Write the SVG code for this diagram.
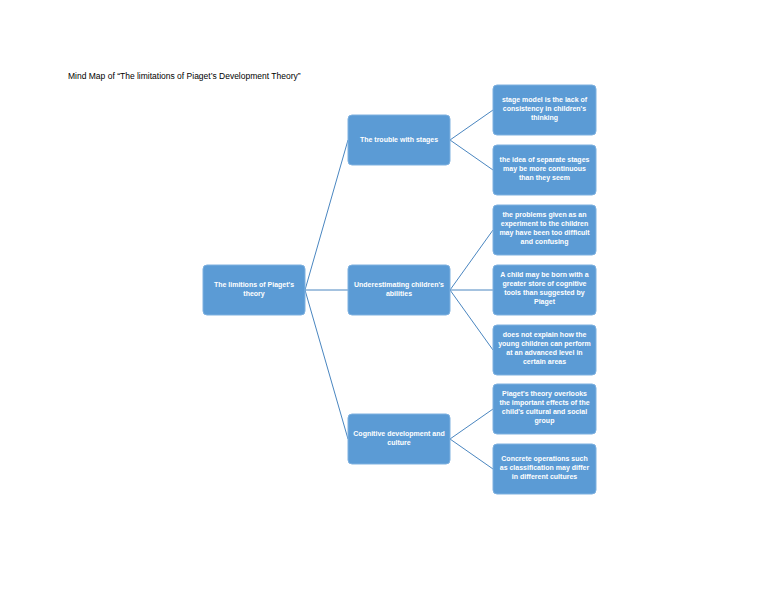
<svg xmlns="http://www.w3.org/2000/svg" width="768" height="594" viewBox="0 0 768 594">
<style>
.b{fill:#5b9bd5;stroke:#7eb1e0;stroke-width:1}
.t{font-family:"Liberation Sans",Arial,sans-serif;font-size:7px;fill:#fff;font-weight:bold;text-anchor:middle}
.c{stroke:#4a86c0;stroke-width:1;fill:none}
</style>
<rect width="768" height="594" fill="#fff"/>
<text x="68" y="79" font-family="Liberation Sans,Arial,sans-serif" font-size="8.5" fill="#000">Mind Map of “The limitations of Piaget’s Development Theory”</text>
<g id="connectors">
<path class="c" d="M305 290 L348 140 M305 290 L348 290 M305 290 L348 439"/>
<path class="c" d="M450 140 L493 110 M450 140 L493 170 M450 290 L493 230 M450 290 L493 290 M450 290 L493 350 M450 439 L493 409 M450 439 L493 469"/>
</g>
<g id="root"><rect class="b" x="203" y="265" width="102" height="50" rx="4"/><text class="t" x="254" y="287">The limitions of Piaget's</text><text class="t" x="254" y="296">theory</text></g>
<g id="m1"><rect class="b" x="348" y="115" width="102" height="50" rx="4"/><text class="t" x="399" y="142">The trouble with stages</text></g>
<g id="m2"><rect class="b" x="348" y="265" width="102" height="50" rx="4"/><text class="t" x="399" y="287">Underestimating children's</text><text class="t" x="399" y="296">abilities</text></g>
<g id="m3"><rect class="b" x="348" y="414" width="102" height="50" rx="4"/><text class="t" x="399" y="436">Cognitive development and</text><text class="t" x="399" y="445">culture</text></g>
<g id="l1"><rect class="b" x="493" y="85" width="103" height="50" rx="4"/><text class="t" x="544.5" y="102">stage model is the lack of</text><text class="t" x="544.5" y="111">consistency in children's</text><text class="t" x="544.5" y="120">thinking</text></g>
<g id="l2"><rect class="b" x="493" y="145" width="103" height="50" rx="4"/><text class="t" x="544.5" y="162">the idea of separate stages</text><text class="t" x="544.5" y="171">may be more continuous</text><text class="t" x="544.5" y="180">than they seem</text></g>
<g id="l3"><rect class="b" x="493" y="205" width="103" height="50" rx="4"/><text class="t" x="544.5" y="217">the problems given as an</text><text class="t" x="544.5" y="226">experiment to the children</text><text class="t" x="544.5" y="235">may have been too difficult</text><text class="t" x="544.5" y="244">and confusing</text></g>
<g id="l4"><rect class="b" x="493" y="265" width="103" height="50" rx="4"/><text class="t" x="544.5" y="277">A child may be born with a</text><text class="t" x="544.5" y="286">greater store of cognitive</text><text class="t" x="544.5" y="295">tools than suggested by</text><text class="t" x="544.5" y="304">Piaget</text></g>
<g id="l5"><rect class="b" x="493" y="325" width="103" height="50" rx="4"/><text class="t" x="544.5" y="337">does not explain how the</text><text class="t" x="544.5" y="346">young children can perform</text><text class="t" x="544.5" y="355">at an advanced level in</text><text class="t" x="544.5" y="364">certain areas</text></g>
<g id="l6"><rect class="b" x="493" y="384" width="103" height="50" rx="4"/><text class="t" x="544.5" y="396">Piaget's theory overlooks</text><text class="t" x="544.5" y="405">the important effects of the</text><text class="t" x="544.5" y="414">child's cultural and social</text><text class="t" x="544.5" y="423">group</text></g>
<g id="l7"><rect class="b" x="493" y="444" width="103" height="50" rx="4"/><text class="t" x="544.5" y="461">Concrete operations such</text><text class="t" x="544.5" y="470">as classification may differ</text><text class="t" x="544.5" y="479">in different cultures</text></g>
</svg>
